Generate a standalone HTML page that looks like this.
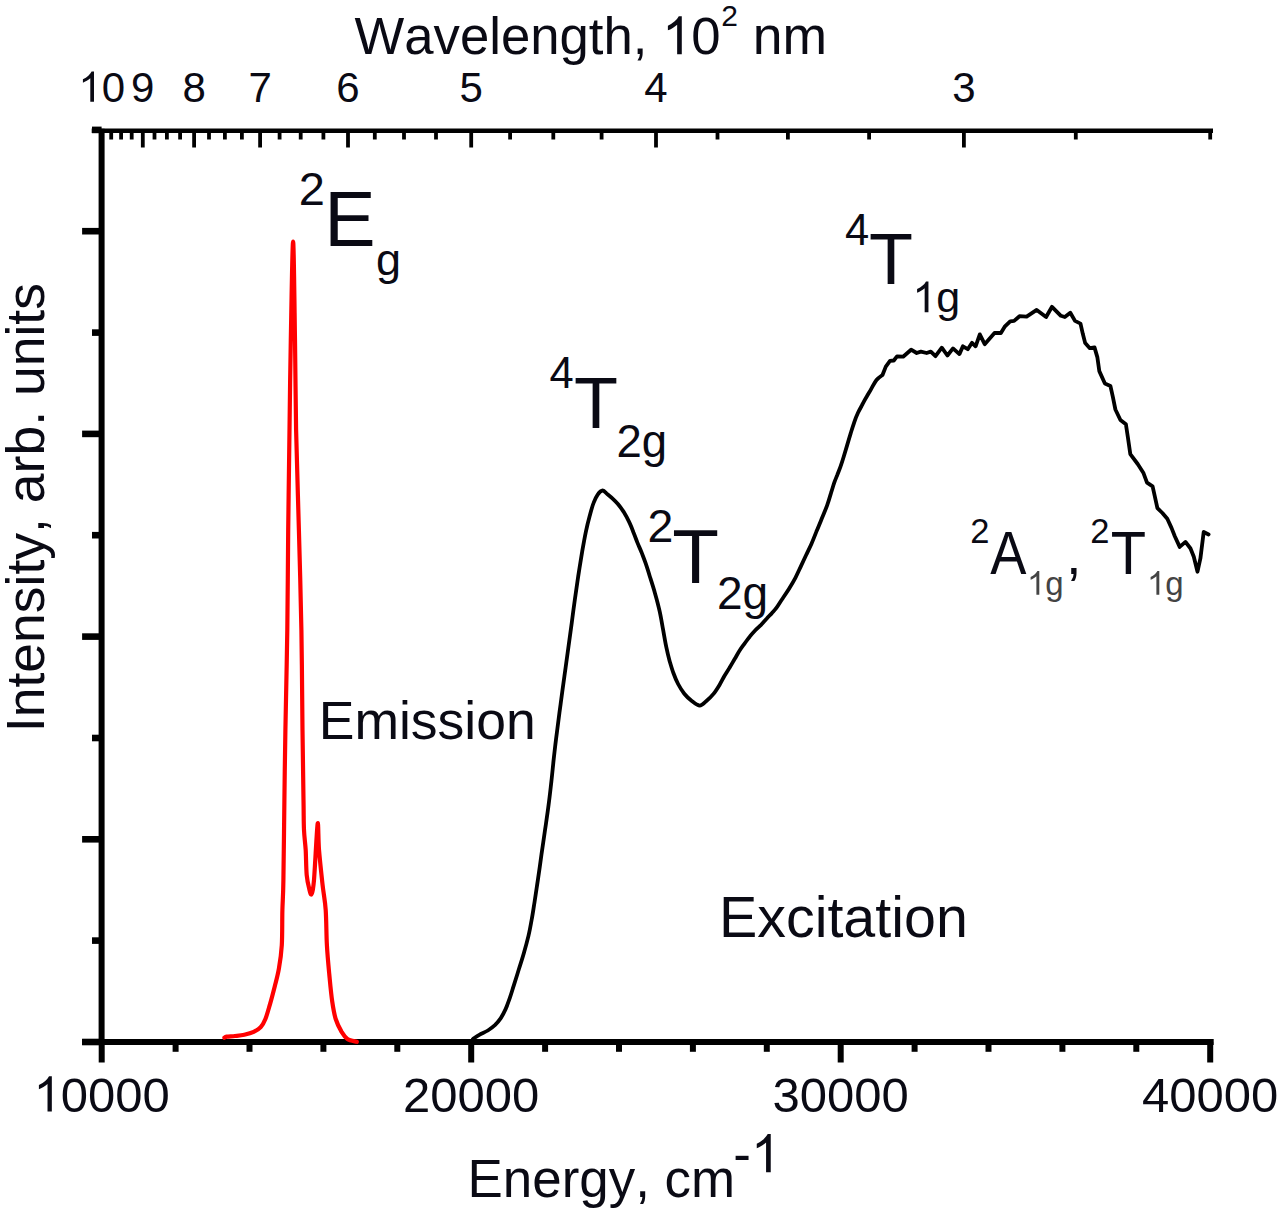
<!DOCTYPE html>
<html><head><meta charset="utf-8"><style>
html,body{margin:0;padding:0;background:#fff;}
body{width:1280px;height:1211px;overflow:hidden;}
svg{display:block;}
text{font-family:"Liberation Sans",sans-serif;font-kerning:none;}
</style></head><body>
<svg width="1280" height="1211" viewBox="0 0 1280 1211">
<rect width="1280" height="1211" fill="#fff"/>
<line x1="101.6" y1="128.8" x2="101.6" y2="1045.0" stroke="#000" stroke-width="6"/>
<line x1="82" y1="1042.0" x2="1213.7" y2="1042.0" stroke="#000" stroke-width="6"/>
<line x1="91.7" y1="130.8" x2="1213" y2="130.8" stroke="#000" stroke-width="4.5"/>
<line x1="101.7" y1="1042.0" x2="101.7" y2="1062.5" stroke="#000" stroke-width="6"/>
<line x1="175.6" y1="1042.0" x2="175.6" y2="1051.8" stroke="#000" stroke-width="6"/>
<line x1="249.5" y1="1042.0" x2="249.5" y2="1051.8" stroke="#000" stroke-width="6"/>
<line x1="323.4" y1="1042.0" x2="323.4" y2="1051.8" stroke="#000" stroke-width="6"/>
<line x1="397.3" y1="1042.0" x2="397.3" y2="1051.8" stroke="#000" stroke-width="6"/>
<line x1="471.2" y1="1042.0" x2="471.2" y2="1062.5" stroke="#000" stroke-width="6"/>
<line x1="545.1" y1="1042.0" x2="545.1" y2="1051.8" stroke="#000" stroke-width="6"/>
<line x1="619.0" y1="1042.0" x2="619.0" y2="1051.8" stroke="#000" stroke-width="6"/>
<line x1="692.9" y1="1042.0" x2="692.9" y2="1051.8" stroke="#000" stroke-width="6"/>
<line x1="766.8" y1="1042.0" x2="766.8" y2="1051.8" stroke="#000" stroke-width="6"/>
<line x1="840.7" y1="1042.0" x2="840.7" y2="1062.5" stroke="#000" stroke-width="6"/>
<line x1="914.6" y1="1042.0" x2="914.6" y2="1051.8" stroke="#000" stroke-width="6"/>
<line x1="988.5" y1="1042.0" x2="988.5" y2="1051.8" stroke="#000" stroke-width="6"/>
<line x1="1062.4" y1="1042.0" x2="1062.4" y2="1051.8" stroke="#000" stroke-width="6"/>
<line x1="1136.3" y1="1042.0" x2="1136.3" y2="1051.8" stroke="#000" stroke-width="6"/>
<line x1="1210.2" y1="1042.0" x2="1210.2" y2="1062.5" stroke="#000" stroke-width="6"/>
<line x1="82.1" y1="1042.0" x2="101.6" y2="1042.0" stroke="#000" stroke-width="6.6"/>
<line x1="92" y1="940.6" x2="101.6" y2="940.6" stroke="#000" stroke-width="6.6"/>
<line x1="82.1" y1="839.3" x2="101.6" y2="839.3" stroke="#000" stroke-width="6.6"/>
<line x1="92" y1="738.0" x2="101.6" y2="738.0" stroke="#000" stroke-width="6.6"/>
<line x1="82.1" y1="636.6" x2="101.6" y2="636.6" stroke="#000" stroke-width="6.6"/>
<line x1="92" y1="535.2" x2="101.6" y2="535.2" stroke="#000" stroke-width="6.6"/>
<line x1="82.1" y1="433.9" x2="101.6" y2="433.9" stroke="#000" stroke-width="6.6"/>
<line x1="92" y1="332.6" x2="101.6" y2="332.6" stroke="#000" stroke-width="6.6"/>
<line x1="82.1" y1="231.2" x2="101.6" y2="231.2" stroke="#000" stroke-width="6.6"/>
<line x1="92" y1="129.9" x2="101.6" y2="129.9" stroke="#000" stroke-width="6.6"/>
<line x1="101.7" y1="130.8" x2="101.7" y2="147.5" stroke="#000" stroke-width="3.8"/>
<line x1="111.2" y1="130.8" x2="111.2" y2="139.5" stroke="#000" stroke-width="3.8"/>
<line x1="121.1" y1="130.8" x2="121.1" y2="139.5" stroke="#000" stroke-width="3.8"/>
<line x1="131.7" y1="130.8" x2="131.7" y2="139.5" stroke="#000" stroke-width="3.8"/>
<line x1="142.8" y1="130.8" x2="142.8" y2="147.5" stroke="#000" stroke-width="3.8"/>
<line x1="154.5" y1="130.8" x2="154.5" y2="139.5" stroke="#000" stroke-width="3.8"/>
<line x1="166.9" y1="130.8" x2="166.9" y2="139.5" stroke="#000" stroke-width="3.8"/>
<line x1="180.1" y1="130.8" x2="180.1" y2="139.5" stroke="#000" stroke-width="3.8"/>
<line x1="194.1" y1="130.8" x2="194.1" y2="147.5" stroke="#000" stroke-width="3.8"/>
<line x1="209.0" y1="130.8" x2="209.0" y2="139.5" stroke="#000" stroke-width="3.8"/>
<line x1="224.9" y1="130.8" x2="224.9" y2="139.5" stroke="#000" stroke-width="3.8"/>
<line x1="241.9" y1="130.8" x2="241.9" y2="139.5" stroke="#000" stroke-width="3.8"/>
<line x1="260.1" y1="130.8" x2="260.1" y2="147.5" stroke="#000" stroke-width="3.8"/>
<line x1="279.6" y1="130.8" x2="279.6" y2="139.5" stroke="#000" stroke-width="3.8"/>
<line x1="300.7" y1="130.8" x2="300.7" y2="139.5" stroke="#000" stroke-width="3.8"/>
<line x1="323.4" y1="130.8" x2="323.4" y2="139.5" stroke="#000" stroke-width="3.8"/>
<line x1="348.0" y1="130.8" x2="348.0" y2="147.5" stroke="#000" stroke-width="3.8"/>
<line x1="374.8" y1="130.8" x2="374.8" y2="139.5" stroke="#000" stroke-width="3.8"/>
<line x1="404.0" y1="130.8" x2="404.0" y2="139.5" stroke="#000" stroke-width="3.8"/>
<line x1="436.0" y1="130.8" x2="436.0" y2="139.5" stroke="#000" stroke-width="3.8"/>
<line x1="471.2" y1="130.8" x2="471.2" y2="147.5" stroke="#000" stroke-width="3.8"/>
<line x1="510.1" y1="130.8" x2="510.1" y2="139.5" stroke="#000" stroke-width="3.8"/>
<line x1="553.3" y1="130.8" x2="553.3" y2="139.5" stroke="#000" stroke-width="3.8"/>
<line x1="601.6" y1="130.8" x2="601.6" y2="139.5" stroke="#000" stroke-width="3.8"/>
<line x1="656.0" y1="130.8" x2="656.0" y2="147.5" stroke="#000" stroke-width="3.8"/>
<line x1="717.5" y1="130.8" x2="717.5" y2="139.5" stroke="#000" stroke-width="3.8"/>
<line x1="787.9" y1="130.8" x2="787.9" y2="139.5" stroke="#000" stroke-width="3.8"/>
<line x1="869.1" y1="130.8" x2="869.1" y2="139.5" stroke="#000" stroke-width="3.8"/>
<line x1="963.9" y1="130.8" x2="963.9" y2="147.5" stroke="#000" stroke-width="3.8"/>
<line x1="1075.8" y1="130.8" x2="1075.8" y2="139.5" stroke="#000" stroke-width="3.8"/>
<line x1="1210.2" y1="130.8" x2="1210.2" y2="139.5" stroke="#000" stroke-width="3.8"/>
<path d="M224.4,1037.7 C224.8,1037.5 224.9,1036.9 226.7,1036.6 C228.4,1036.3 232.0,1036.3 234.9,1036.0 C237.8,1035.7 241.2,1035.5 244.3,1034.8 C247.4,1034.1 251.0,1033.2 253.7,1031.9 C256.4,1030.6 258.8,1029.4 260.7,1027.2 C262.6,1025.0 263.8,1022.9 265.4,1019.0 C267.0,1015.1 268.5,1009.3 270.1,1003.8 C271.7,998.3 273.3,992.1 274.8,986.2 C276.3,980.3 277.7,975.4 278.9,968.6 C280.1,961.8 281.2,955.0 281.8,945.2 C282.4,935.4 282.1,920.9 282.4,910.0 C282.7,899.1 283.1,898.3 283.4,880.0 C283.7,861.7 284.1,825.0 284.4,800.0 C284.7,775.0 284.9,758.3 285.4,730.0 C285.9,701.7 286.8,663.3 287.3,630.0 C287.8,596.7 287.8,563.3 288.2,530.0 C288.6,496.7 289.1,461.7 289.5,430.0 C289.9,398.3 290.2,371.4 290.8,340.0 C291.4,308.6 292.4,241.5 293.1,241.5 C293.8,241.5 294.5,308.6 295.0,340.0 C295.5,371.4 295.5,398.3 296.1,430.0 C296.8,461.7 298.0,496.7 298.9,530.0 C299.8,563.3 300.8,596.7 301.4,630.0 C302.0,663.3 302.1,701.7 302.5,730.0 C302.9,758.3 303.2,783.3 303.5,800.0 C303.8,816.7 303.6,821.7 304.0,830.0 C304.4,838.3 305.2,842.5 305.7,850.0 C306.1,857.5 306.1,868.3 306.7,875.0 C307.3,881.7 308.7,886.8 309.5,890.0 C310.3,893.2 310.9,895.7 311.6,894.0 C312.4,892.3 313.0,891.7 314.0,880.0 C315.0,868.3 316.8,829.1 317.6,824.0 C318.4,818.9 318.2,839.6 319.0,849.6 C319.8,859.6 321.4,874.2 322.5,884.3 C323.6,894.4 325.0,899.9 325.7,910.0 C326.4,920.1 326.3,934.5 326.9,945.2 C327.5,956.0 328.4,965.1 329.3,974.5 C330.2,983.9 331.1,994.0 332.2,1001.4 C333.3,1008.8 334.1,1013.9 335.7,1019.0 C337.3,1024.1 339.7,1028.6 341.6,1031.9 C343.6,1035.2 344.9,1037.2 347.4,1038.9 C349.9,1040.6 355.2,1041.3 356.8,1041.8" fill="none" stroke="#f00" stroke-width="4.2" stroke-linejoin="round" stroke-linecap="round"/>
<path d="M472.9,1039.0 C474.0,1038.3 476.8,1036.2 479.3,1034.8 C481.8,1033.4 485.3,1032.1 487.9,1030.5 C490.5,1028.9 492.7,1027.2 494.9,1025.2 C497.0,1023.1 499.0,1020.7 500.8,1018.1 C502.6,1015.4 504.1,1012.3 505.6,1009.1 C507.1,1005.8 508.2,1002.6 509.6,998.6 C511.0,994.6 512.3,990.1 513.9,985.2 C515.5,980.2 517.3,974.3 519.0,968.8 C520.7,963.3 522.6,957.7 524.1,952.2 C525.7,946.7 527.1,941.5 528.4,936.1 C529.7,930.7 530.6,925.7 531.6,920.0 C532.7,914.3 533.5,908.5 534.6,901.7 C535.7,894.9 536.8,887.0 538.0,879.1 C539.2,871.2 540.4,862.6 541.5,854.3 C542.7,846.1 543.9,837.8 545.1,829.6 C546.3,821.3 547.6,812.8 548.6,804.8 C549.7,796.8 550.5,789.1 551.4,781.3 C552.3,773.6 552.9,766.5 553.8,758.3 C554.7,750.1 555.7,741.4 556.9,732.4 C558.0,723.4 559.3,713.7 560.6,704.3 C561.8,694.9 563.1,685.6 564.4,676.2 C565.7,666.8 567.1,657.0 568.3,648.1 C569.5,639.2 570.7,630.6 571.8,622.6 C572.8,614.6 573.7,607.7 574.8,600.0 C575.9,592.3 577.0,584.3 578.2,576.4 C579.4,568.5 580.8,560.0 582.0,552.6 C583.3,545.2 584.5,538.3 585.8,532.1 C587.1,525.9 588.5,520.4 589.8,515.6 C591.1,510.7 592.2,506.3 593.6,502.9 C594.9,499.4 596.2,496.7 597.7,494.6 C599.2,492.5 601.1,490.6 602.7,490.5 C604.3,490.4 605.8,492.9 607.5,494.3 C609.1,495.6 610.9,497.0 612.6,498.6 C614.3,500.2 616.1,501.9 617.9,504.0 C619.7,506.2 621.6,508.7 623.5,511.6 C625.3,514.6 627.4,518.4 629.1,521.9 C630.8,525.3 632.2,529.0 633.5,532.5 C634.9,535.9 636.0,539.1 637.3,542.4 C638.6,545.6 640.1,548.8 641.5,552.2 C642.8,555.7 644.2,559.1 645.6,563.2 C647.0,567.2 648.4,571.7 649.9,576.7 C651.5,581.7 653.3,587.2 654.9,592.9 C656.5,598.5 658.2,604.6 659.5,610.7 C660.9,616.7 661.9,623.3 663.0,629.2 C664.1,635.2 665.1,641.3 666.2,646.6 C667.3,651.9 668.4,656.5 669.6,660.9 C670.9,665.3 672.0,669.2 673.4,673.0 C674.8,676.9 676.3,680.5 678.1,684.0 C679.9,687.4 682.0,690.8 684.3,693.7 C686.6,696.5 689.2,699.0 691.8,701.0 C694.3,703.0 697.4,705.6 699.8,705.6 C702.2,705.6 704.1,702.9 706.4,701.0 C708.7,699.1 711.3,696.6 713.5,693.9 C715.7,691.3 717.7,688.0 719.5,685.0 C721.3,682.0 722.7,678.9 724.4,676.0 C726.1,673.2 727.9,670.5 729.6,667.6 C731.4,664.8 733.1,661.6 734.8,658.8 C736.5,655.9 738.1,652.9 739.8,650.3 C741.4,647.8 743.1,645.6 744.7,643.4 C746.4,641.1 747.9,638.8 749.7,636.7 C751.4,634.5 753.2,632.5 755.1,630.5 C757.0,628.5 759.1,626.8 761.1,624.8 C763.0,622.8 765.0,620.4 766.8,618.5 C768.6,616.5 770.2,615.0 771.8,613.2 C773.4,611.4 774.7,610.2 776.4,607.9 C778.1,605.5 780.0,602.3 782.1,599.2 C784.2,596.1 786.7,592.5 788.9,589.0 C791.1,585.4 793.3,581.7 795.4,577.8 C797.5,573.9 799.4,569.3 801.3,565.4 C803.1,561.5 804.8,557.9 806.5,554.3 C808.2,550.7 809.8,547.5 811.5,543.7 C813.1,540.0 814.7,535.9 816.4,531.6 C818.2,527.4 820.1,522.7 821.9,518.3 C823.7,513.8 825.8,509.1 827.3,504.9 C828.8,500.6 830.0,496.4 831.1,492.7 C832.3,489.1 833.1,486.0 834.1,483.1 C835.1,480.1 836.1,477.9 837.2,475.2 C838.2,472.5 839.3,470.0 840.4,466.9 C841.5,463.8 842.6,460.4 843.7,456.8 C844.8,453.2 845.9,449.3 847.1,445.4 C848.2,441.6 849.4,437.5 850.6,433.6 C851.8,429.8 853.1,425.6 854.3,422.1 C855.5,418.6 856.7,415.6 858.0,412.8 C859.3,410.0 860.5,407.9 861.9,405.4 C863.3,402.8 864.6,400.2 866.2,397.6 C867.7,394.9 869.4,392.1 871.1,389.1 C872.8,386.2 874.6,382.4 876.5,380.0 C878.4,377.6 881.5,375.8 882.5,375.0 L885.8,366.6 L890.0,360.9 L893.8,360.5 L897.0,356.3 L903.1,356.7 L911.1,349.7 L916.7,353.0 L920.9,351.6 L926.6,353.0 L930.8,351.6 L935.5,356.2 L941.8,347.7 L947.4,355.5 L953.0,348.4 L959.4,354.1 L962.9,346.3 L967.8,349.2 L972.0,342.8 L975.6,346.3 L979.8,334.4 L984.7,344.2 L994.5,333.0 L1000.9,333.0 L1004.7,326.7 L1010.2,321.3 L1014.1,320.9 L1019.5,316.2 L1026.6,316.6 L1036.7,309.9 L1046.1,317.0 L1052.0,306.8 L1060.9,315.8 L1064.8,317.0 L1070.3,312.7 L1075.0,320.9 L1080.5,323.6 L1082.8,333.8 L1085.2,343.1 L1089.8,348.2 L1094.5,347.4 L1097.4,357.4 L1099.3,371.1 L1104.9,383.5 L1110.4,385.9 L1112.9,397.1 L1115.4,409.5 L1120.4,420.0 L1125.9,424.3 L1127.8,436.7 L1130.3,454.1 L1137.7,464.0 L1143.3,472.7 L1147.0,482.6 L1152.6,486.3 L1154.1,493.2 L1157.4,508.1 L1162.4,513.0 L1167.3,518.8 L1171.5,527.9 L1174.8,536.2 L1179.7,546.9 L1185.5,541.9 L1190.5,548.5 L1193.8,556.8 L1197.5,571.7 L1200.4,558.4 L1203.7,532.0 L1208.6,534.5" fill="none" stroke="#000" stroke-width="3.8" stroke-linejoin="round" stroke-linecap="round"/>
<text x="354.57" y="54.20" font-size="52.7" fill="#0a0a14" >Wavelength,  0</text>
<path d="M763,0 L583,0 L583,1147 Q518,1085 412.5,1023 Q307,961 223,930 L223,1104 Q374,1175 487,1276 Q600,1377 647,1472 L763,1472 Z" fill="#0a0a14" transform="translate(662.15,54.20) scale(0.02573,-0.02573)"/>
<text x="721.29" y="26.10" font-size="30" fill="#0a0a14" >2</text>
<text x="752.85" y="54.20" font-size="53.5" fill="#0a0a14" >nm</text>
<text x="78.34" y="101.80" font-size="42" fill="#0a0a14" > 0</text>
<path d="M763,0 L583,0 L583,1147 Q518,1085 412.5,1023 Q307,961 223,930 L223,1104 Q374,1175 487,1276 Q600,1377 647,1472 L763,1472 Z" fill="#0a0a14" transform="translate(78.34,101.80) scale(0.02051,-0.02051)"/>
<text x="131.08" y="101.80" font-size="42" fill="#0a0a14" >9</text>
<text x="182.40" y="101.80" font-size="42" fill="#0a0a14" >8</text>
<text x="248.38" y="101.80" font-size="42" fill="#0a0a14" >7</text>
<text x="336.35" y="101.80" font-size="42" fill="#0a0a14" >6</text>
<text x="459.52" y="101.80" font-size="42" fill="#0a0a14" >5</text>
<text x="644.27" y="101.80" font-size="42" fill="#0a0a14" >4</text>
<text x="952.19" y="101.80" font-size="42" fill="#0a0a14" >3</text>
<text x="33.57" y="1111.50" font-size="49" fill="#0a0a14" > 0000</text>
<path d="M763,0 L583,0 L583,1147 Q518,1085 412.5,1023 Q307,961 223,930 L223,1104 Q374,1175 487,1276 Q600,1377 647,1472 L763,1472 Z" fill="#0a0a14" transform="translate(33.57,1111.50) scale(0.02393,-0.02393)"/>
<text x="403.07" y="1111.50" font-size="49" fill="#0a0a14" >20000</text>
<text x="772.57" y="1111.50" font-size="49" fill="#0a0a14" >30000</text>
<text x="1142.07" y="1111.50" font-size="49" fill="#0a0a14" >40000</text>
<text x="467.56" y="1197.00" font-size="52.9" fill="#0a0a14" >Energy, cm</text>
<text x="733.35" y="1172.20" font-size="53" fill="#0a0a14" >- </text>
<path d="M763,0 L583,0 L583,1147 Q518,1085 412.5,1023 Q307,961 223,930 L223,1104 Q374,1175 487,1276 Q600,1377 647,1472 L763,1472 Z" fill="#0a0a14" transform="translate(750.99,1172.20) scale(0.02588,-0.02588)"/>
<g transform="translate(43.6,727.2) rotate(-90)">
<text x="-4.94" y="0.00" font-size="53.5" fill="#0a0a14" >Intensity, arb. units</text>
</g>
<text x="298.64" y="204.50" font-size="47" fill="#0a0a14" >2</text>
<text x="324.18" y="246.20" font-size="77" fill="#0a0a14" >E</text>
<text x="376.01" y="275.00" font-size="45" fill="#0a0a14" >g</text>
<text x="549.40" y="387.70" font-size="43.5" fill="#0a0a14" >4</text>
<text x="573.88" y="427.70" font-size="72" fill="#0a0a14" >T</text>
<text x="616.51" y="457.20" font-size="45.5" fill="#0a0a14" >2g</text>
<text x="647.46" y="541.60" font-size="46.5" fill="#0a0a14" >2</text>
<text x="672.28" y="582.80" font-size="76.5" fill="#0a0a14" >T</text>
<text x="716.99" y="608.80" font-size="46" fill="#0a0a14" >2g</text>
<text x="845.00" y="244.50" font-size="43.5" fill="#0a0a14" >4</text>
<text x="868.98" y="284.40" font-size="72" fill="#0a0a14" >T</text>
<text x="912.42" y="312.30" font-size="43" fill="#0a0a14" > g</text>
<path d="M763,0 L583,0 L583,1147 Q518,1085 412.5,1023 Q307,961 223,930 L223,1104 Q374,1175 487,1276 Q600,1377 647,1472 L763,1472 Z" fill="#0a0a14" transform="translate(912.42,312.30) scale(0.02100,-0.02100)"/>
<text x="970.26" y="542.50" font-size="34.5" fill="#0a0a14" >2</text>
<g transform="translate(990.30,574.00) scale(0.89,1)">
<text x="-0.12" y="0.00" font-size="61" fill="#0a0a14" >A</text>
</g>
<text x="1027.01" y="594.80" font-size="33" fill="#444" > g</text>
<path d="M763,0 L583,0 L583,1147 Q518,1085 412.5,1023 Q307,961 223,930 L223,1104 Q374,1175 487,1276 Q600,1377 647,1472 L763,1472 Z" fill="#444" transform="translate(1027.01,594.80) scale(0.01611,-0.01611)"/>
<text x="1065.97" y="574.00" font-size="56" fill="#0a0a14" >,</text>
<text x="1090.16" y="542.50" font-size="34.5" fill="#0a0a14" >2</text>
<g transform="translate(1112.10,574.00) scale(0.94,1)">
<text x="-1.38" y="0.00" font-size="61.5" fill="#0a0a14" >T</text>
</g>
<text x="1147.01" y="594.80" font-size="33" fill="#444" > g</text>
<path d="M763,0 L583,0 L583,1147 Q518,1085 412.5,1023 Q307,961 223,930 L223,1104 Q374,1175 487,1276 Q600,1377 647,1472 L763,1472 Z" fill="#444" transform="translate(1147.01,594.80) scale(0.01611,-0.01611)"/>
<text x="318.71" y="738.75" font-size="53.5" fill="#0a0a14" >Emission</text>
<text x="718.99" y="937.00" font-size="57.4" fill="#0a0a14" >Excitation</text>
</svg>
</body></html>
